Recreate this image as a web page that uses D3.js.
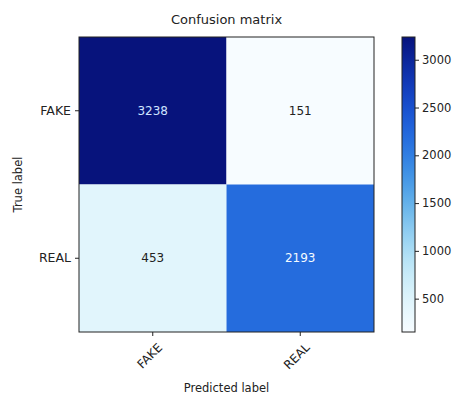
<!DOCTYPE html>
<html>
<head>
<meta charset="UTF-8">
<style>
  body { margin: 0; background: #fff; }
  text { font-family: "DejaVu Sans", sans-serif; fill: #222; }
</style>
</head>
<body>
<svg width="474" height="404"></svg>
<script src="https://d3js.org/d3.v7.min.js"></script>
<script>
  const labels = ["FAKE", "REAL"];
  const matrix = [[3238, 151], [453, 2193]];
  const cbTicks = [500, 1000, 1500, 2000, 2500, 3000];

  const svg = d3.select("svg");
  const m = { left: 79, top: 37, right: 374, bottom: 332 };

  // the picture's palette is brighter than d3.interpolateBlues
  const interp = d3.interpolateRgbBasis(["#f7fcff", "#c2ecf8", "#3c9de4", "#1650e0", "#07137c"]);

  const x = d3.scaleBand().domain(labels).range([m.left, m.right]);
  const y = d3.scaleBand().domain(labels).range([m.top, m.bottom]);
  const vmin = d3.min(matrix.flat()), vmax = d3.max(matrix.flat());
  const color = d3.scaleSequential(interp).domain([vmin, vmax]);

  const cells = [];
  matrix.forEach((row, i) => row.forEach((v, j) => cells.push({ t: labels[i], p: labels[j], v })));

  svg.selectAll("rect.cell").data(cells).enter().append("rect")
    .attr("class", "cell")
    .attr("x", d => x(d.p)).attr("y", d => y(d.t))
    .attr("width", x.bandwidth()).attr("height", y.bandwidth())
    .attr("fill", d => color(d.v));

  svg.selectAll("text.val").data(cells).enter().append("text")
    .attr("x", d => x(d.p) + x.bandwidth() / 2)
    .attr("y", d => y(d.t) + y.bandwidth() / 2)
    .attr("text-anchor", "middle").attr("dominant-baseline", "central")
    .attr("font-size", 12)
    .style("fill", d => d.v > vmax * 0.8 ? "#cfe3ff" : d.v > vmax / 2 ? "#f4fbff" : "#222")
    .text(d => d.v);

  svg.append("rect").attr("x", m.left).attr("y", m.top)
    .attr("width", m.right - m.left).attr("height", m.bottom - m.top)
    .attr("fill", "none").attr("stroke", "#222");

  // axes
  const ax = svg.append("g").attr("transform", `translate(0,${m.bottom})`)
    .call(d3.axisBottom(x).tickSize(4).tickPadding(4));
  ax.select(".domain").remove();
  ax.selectAll("text").attr("font-size", 12)
    .attr("text-anchor", "end")
    .attr("transform", "translate(-3,3) rotate(-45)")
    .attr("dy", "0.9em");
  const ay = svg.append("g").attr("transform", `translate(${m.left},0)`)
    .call(d3.axisLeft(y).tickSize(4).tickPadding(4));
  ay.select(".domain").remove();
  ay.selectAll("text").attr("font-size", 12.5);
  svg.selectAll(".tick line").attr("stroke", "#222");
  svg.selectAll(".tick text").style("fill", "#222").attr("font-family", "DejaVu Sans");

  svg.append("text").attr("x", (m.left + m.right) / 2).attr("y", 24)
    .attr("text-anchor", "middle").attr("font-size", 13).text("Confusion matrix");
  svg.append("text").attr("x", (m.left + m.right) / 2).attr("y", 392)
    .attr("text-anchor", "middle").attr("font-size", 11.5).text("Predicted label");
  svg.append("text").attr("transform", `translate(22,${(m.top + m.bottom) / 2}) rotate(-90)`)
    .attr("text-anchor", "middle").attr("font-size", 11.5).text("True label");

  // colorbar
  const cb = { x: 402, w: 13 };
  const cy = d3.scaleLinear().domain([vmin, vmax]).range([m.bottom, m.top]);
  const defs = svg.append("defs");
  const grad = defs.append("linearGradient").attr("id", "cbg")
    .attr("x1", 0).attr("y1", 1).attr("x2", 0).attr("y2", 0);
  d3.range(0, 1.01, 0.05).forEach(t => grad.append("stop")
    .attr("offset", t).attr("stop-color", interp(t)));
  svg.append("rect").attr("x", cb.x).attr("y", m.top)
    .attr("width", cb.w).attr("height", m.bottom - m.top)
    .attr("fill", "url(#cbg)").attr("stroke", "#222");
  const ac = svg.append("g").attr("transform", `translate(${cb.x + cb.w},0)`)
    .call(d3.axisRight(cy).tickValues(cbTicks).tickFormat(d3.format("d")).tickSize(4).tickPadding(3));
  ac.select(".domain").remove();
  ac.selectAll("text").attr("font-size", 11.5).style("fill", "#222").attr("font-family", "DejaVu Sans");
  ac.selectAll("line").attr("stroke", "#222");
</script>
</body>
</html>
